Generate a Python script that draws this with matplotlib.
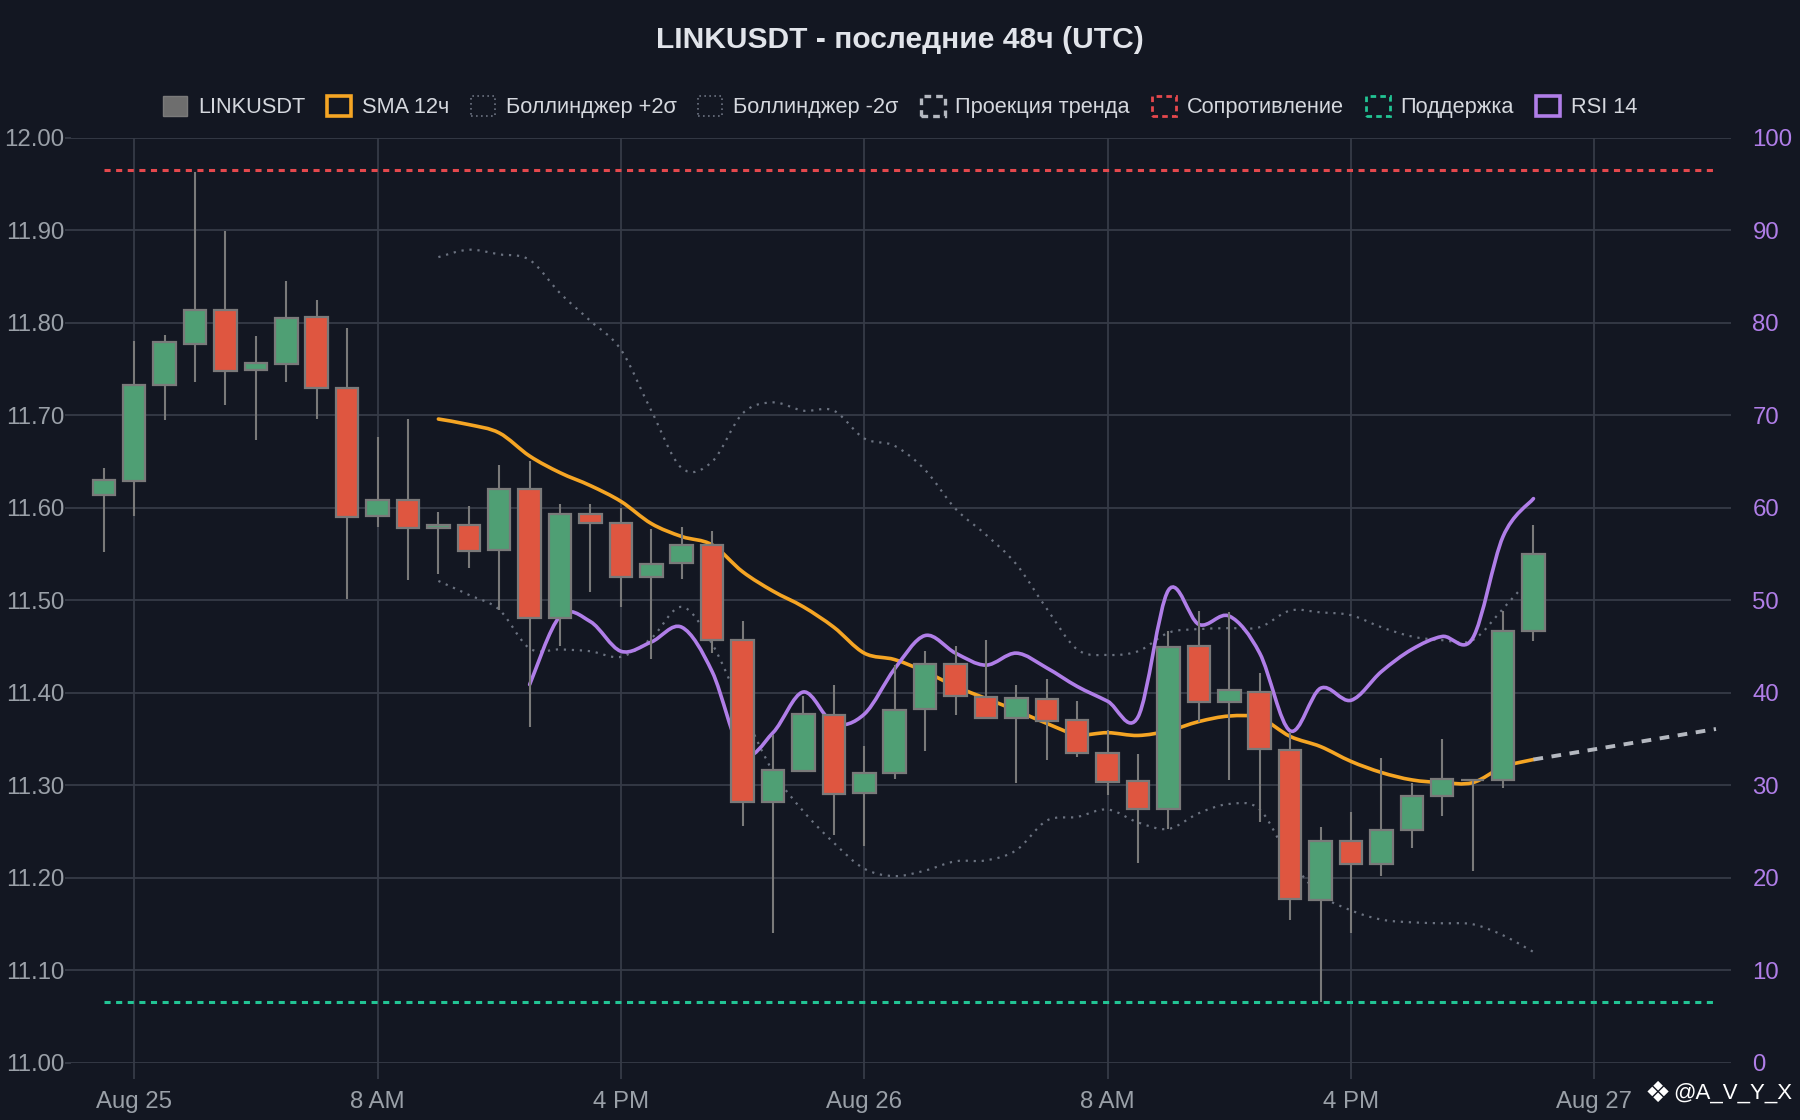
import matplotlib
matplotlib.use("Agg")
import matplotlib.pyplot as plt
import matplotlib.dates as mdates
from matplotlib.patches import Patch, PathPatch
from matplotlib.path import Path
import numpy as np
import pandas as pd

# hourly candles, Aug 24 23:00 -> Aug 26 22:00 (UTC)
times = pd.date_range("2025-08-24 23:00", periods=48, freq="h")

opens = [11.614, 11.629, 11.733, 11.777, 11.814, 11.749, 11.756, 11.806, 11.729, 11.591,
         11.608, 11.578, 11.581, 11.554, 11.620, 11.481, 11.593, 11.584, 11.525, 11.540,
         11.560, 11.457, 11.282, 11.316, 11.376, 11.292, 11.313, 11.383, 11.431, 11.396,
         11.373, 11.393, 11.371, 11.335, 11.305, 11.274, 11.451, 11.390, 11.401, 11.338,
         11.176, 11.240, 11.215, 11.252, 11.289, 11.306, 11.306, 11.467]
highs = [11.643, 11.780, 11.787, 11.963, 11.899, 11.786, 11.845, 11.825, 11.794, 11.677,
         11.696, 11.595, 11.602, 11.646, 11.651, 11.604, 11.604, 11.600, 11.577, 11.579,
         11.575, 11.478, 11.355, 11.397, 11.408, 11.343, 11.430, 11.445, 11.451, 11.457,
         11.409, 11.415, 11.391, 11.360, 11.334, 11.467, 11.489, 11.487, 11.421, 11.358,
         11.255, 11.271, 11.330, 11.303, 11.350, 11.307, 11.489, 11.581]
lows = [11.552, 11.591, 11.695, 11.736, 11.711, 11.673, 11.736, 11.696, 11.501, 11.579,
        11.522, 11.529, 11.535, 11.490, 11.363, 11.451, 11.509, 11.493, 11.437, 11.523,
        11.443, 11.256, 11.141, 11.314, 11.246, 11.234, 11.307, 11.337, 11.376, 11.372,
        11.303, 11.327, 11.331, 11.290, 11.216, 11.253, 11.369, 11.306, 11.260, 11.155,
        11.066, 11.140, 11.202, 11.232, 11.267, 11.208, 11.297, 11.456]
closes = [11.630, 11.733, 11.779, 11.814, 11.748, 11.757, 11.805, 11.730, 11.590, 11.608,
          11.578, 11.582, 11.553, 11.620, 11.481, 11.593, 11.584, 11.525, 11.539, 11.560,
          11.457, 11.282, 11.317, 11.377, 11.291, 11.313, 11.382, 11.431, 11.397, 11.373,
          11.394, 11.370, 11.335, 11.304, 11.274, 11.450, 11.390, 11.403, 11.339, 11.177,
          11.240, 11.215, 11.252, 11.289, 11.307, 11.306, 11.467, 11.550]

# SMA and Bollinger bands start at candle 11, RSI at candle 14
sma12 = [11.696, 11.690, 11.681, 11.656, 11.638, 11.624, 11.607, 11.583, 11.569, 11.560,
         11.531, 11.510, 11.493, 11.471, 11.443, 11.436, 11.423, 11.407, 11.394, 11.381,
         11.367, 11.355, 11.357, 11.354, 11.359, 11.369, 11.375, 11.373, 11.353, 11.342,
         11.326, 11.314, 11.306, 11.303, 11.303, 11.320, 11.328]
bb_upper = [11.871, 11.879, 11.874, 11.868, 11.832, 11.802, 11.771, 11.705, 11.643, 11.650,
            11.702, 11.714, 11.705, 11.705, 11.675, 11.667, 11.641, 11.599, 11.571, 11.539,
            11.491, 11.447, 11.441, 11.445, 11.465, 11.469, 11.470, 11.471, 11.489, 11.487,
            11.484, 11.471, 11.461, 11.457, 11.457, 11.491, 11.528]
bb_lower = [11.521, 11.506, 11.490, 11.448, 11.447, 11.445, 11.439, 11.459, 11.493, 11.453,
            11.382, 11.315, 11.272, 11.238, 11.210, 11.202, 11.208, 11.218, 11.219, 11.230,
            11.262, 11.266, 11.274, 11.260, 11.253, 11.270, 11.280, 11.274, 11.220, 11.182,
            11.165, 11.155, 11.152, 11.151, 11.150, 11.138, 11.120]
rsi14 = [40.9, 48.3, 47.7, 44.5, 45.5, 47.1, 42.3, 33.5, 35.7, 40.1, 36.7, 37.7, 42.6,
         46.2, 44.3, 43.0, 44.3, 42.7, 40.7, 39.1, 37.4, 51.1, 47.4, 48.3, 44.3, 35.9,
         40.5, 39.2, 42.3, 44.7, 46.1, 45.9, 56.9, 61.0]

resistance = 11.965
support = 11.066
trend_proj = [11.328, 11.361]      # from last candle to +6h

xtick_times = pd.date_range("2025-08-25 00:00", periods=7, freq="8h")
xtick_labels = ["Aug 25", "8 AM", "4 PM", "Aug 26", "8 AM", "4 PM", "Aug 27"]

# colours
BG = "#131722"
GRID = "#363b47"
TXT = "#9aa0a8"
GREEN = "#4f9f74"
RED = "#df5640"
EDGE = "#7a7a7a"
ORANGE = "#f5a524"
PURPLE = "#b07ee8"
BAND = "#6b7280"
RES = "#e5484d"
SUP = "#22c494"
PROJ = "#b4b8c0"
FONT = ["Liberation Sans", "DejaVu Sans"]

plt.rcParams["font.family"] = FONT


def smooth_path(xs, ys):
    # catmull-rom through the points, drawn as cubic bezier segments
    xs = np.asarray(xs, float)
    ys = np.asarray(ys, float)
    n = len(xs)
    verts = [(xs[0], ys[0])]
    codes = [Path.MOVETO]
    for k in range(n - 1):
        a, b = max(k - 1, 0), min(k + 2, n - 1)
        c1 = (xs[k] + (xs[k + 1] - xs[a]) / 6, ys[k] + (ys[k + 1] - ys[a]) / 6)
        c2 = (xs[k + 1] - (xs[b] - xs[k]) / 6, ys[k + 1] - (ys[b] - ys[k]) / 6)
        verts += [c1, c2, (xs[k + 1], ys[k + 1])]
        codes += [Path.CURVE4] * 3
    return Path(verts, codes)


x = mdates.date2num(times.to_pydatetime())
hour = 1 / 24

fig = plt.figure(figsize=(18, 11.2), dpi=100, facecolor=BG)
ax = fig.add_axes([0.0394, 0.0509, 0.9222, 0.8261])
ax.set_facecolor(BG)
ax2 = ax.twinx()

t0 = mdates.date2num(xtick_times[0].to_pydatetime())
ax.set_xlim(t0 - 2.08 * hour, t0 + 52.49 * hour)
ax.set_ylim(11.0, 12.0)
ax2.set_ylim(0, 100)

# grid
ax.set_axisbelow(True)
ax.grid(True, color=GRID, lw=1.3)
for s in list(ax.spines.values()) + list(ax2.spines.values()):
    s.set_visible(False)

# bollinger bands
ax.add_patch(PathPatch(smooth_path(x[11:], bb_upper), fill=False, ec=BAND, lw=1.6,
                       ls=(0, (1, 2.6)), zorder=1))
ax.add_patch(PathPatch(smooth_path(x[11:], bb_lower), fill=False, ec=BAND, lw=1.6,
                       ls=(0, (1, 2.6)), zorder=1))

# SMA
ax.add_patch(PathPatch(smooth_path(x[11:], sma12), fill=False, ec=ORANGE, lw=2.6,
                       capstyle="round", zorder=2))

# RSI (on right scale, but drawn under the candles)
ax.add_patch(PathPatch(smooth_path(x[14:], rsi14), fill=False, ec=PURPLE, lw=2.6,
                       capstyle="round", transform=ax2.transData, zorder=2))

# trend projection
ax.plot([x[-1], x[-1] + 6 * hour], trend_proj, color=PROJ, lw=2.8,
        ls=(0, (2.5, 2.2)), zorder=2)

# resistance / support
ax.hlines(resistance, x[0], x[-1] + 6 * hour, color=RES, lw=2.2, ls=(0, (2, 1.8)), zorder=4)
ax.hlines(support, x[0], x[-1] + 6 * hour, color=SUP, lw=2.2, ls=(0, (2, 1.8)), zorder=4)

# candles
o = np.array(opens)
c = np.array(closes)
cols = [GREEN if cc >= oo else RED for oo, cc in zip(o, c)]
ax.vlines(x, lows, highs, color=EDGE, lw=1.5, zorder=3)
ax.bar(x, c - o, bottom=o, width=0.74 * hour, color=cols, edgecolor=EDGE,
       linewidth=1.6, zorder=3.1)

# ticks
ax.set_xticks(mdates.date2num(xtick_times.to_pydatetime()), xtick_labels)
ax.tick_params(axis="x", colors=GRID, labelcolor=TXT, labelsize=17.3, length=11.5,
               width=1.3, pad=8.5)
ax.set_yticks(np.arange(11.0, 12.01, 0.1))
ax.set_yticklabels([f"{v:.2f}" for v in np.arange(11.0, 12.01, 0.1)])
ax.tick_params(axis="y", colors=GRID, labelcolor=TXT, labelsize=17.3, length=4,
               width=1.3, pad=0.5)
ax2.set_yticks(np.arange(0, 101, 10))
ax2.tick_params(axis="y", labelcolor=PURPLE, labelsize=17.3, length=0, pad=15.5)

# title + legend
fig.text(0.5, 0.9645, "LINKUSDT - последние 48ч (UTC)", ha="center", va="center",
         fontsize=21.6, fontweight="bold", color="#e1e4ea")

handles = [
    Patch(fc="#6e6e6e", ec="#7a7a7a", lw=1),
    Patch(fc="none", ec=ORANGE, lw=2.6),
    Patch(fc="none", ec=BAND, lw=1.2, ls=(0, (1, 2))),
    Patch(fc="none", ec=BAND, lw=1.2, ls=(0, (1, 2))),
    Patch(fc="none", ec=PROJ, lw=2.4, ls=(0, (2, 1.5))),
    Patch(fc="none", ec=RES, lw=2.0, ls=(0, (2, 1.5))),
    Patch(fc="none", ec=SUP, lw=2.0, ls=(0, (2, 1.5))),
    Patch(fc="none", ec=PURPLE, lw=2.6),
]
labels = ["LINKUSDT", "SMA 12ч", "Боллинджер +2σ", "Боллинджер -2σ", "Проекция тренда",
          "Сопротивление", "Поддержка", "RSI 14"]
fig.legend(handles, labels, loc="center", bbox_to_anchor=(0.5, 0.9045), ncol=8,
           frameon=False, fontsize=15.7, handlelength=1.1, handleheight=1.1,
           handletextpad=0.5, columnspacing=1.0, labelcolor="#d5d8de")

# watermark
fig.text(0.921, 0.0235, "❖", ha="center", va="center", color="white",
         fontsize=21, family=FONT)
fig.text(0.9956, 0.0235, "@A_V_Y_X", ha="right", va="center", color="white",
         fontsize=16, family=FONT)

fig.savefig("out.png", dpi=100, facecolor=BG)
